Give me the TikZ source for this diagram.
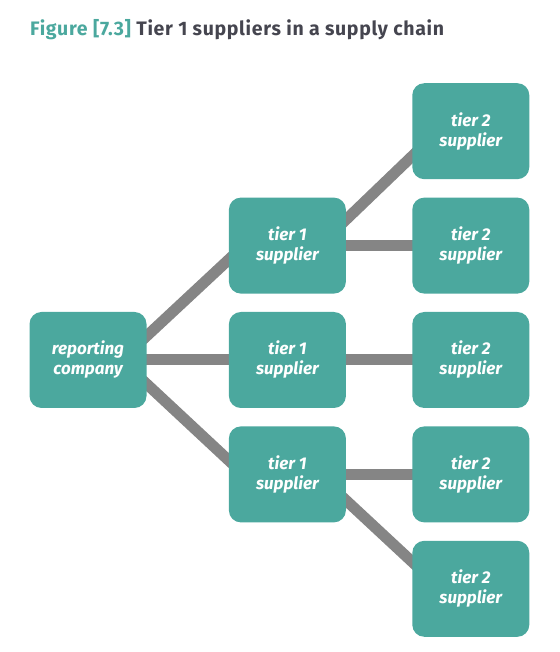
\documentclass[tikz,border=0pt]{standalone}
\usepackage{fontspec}
\setmainfont{Fira Sans}
\usetikzlibrary{positioning,backgrounds}
\definecolor{teal1}{HTML}{4BA89E}
\definecolor{linkgray}{HTML}{858585}
\definecolor{titlegray}{HTML}{45454F}

\begin{document}
\begin{tikzpicture}[
  x=1pt, y=1pt,
  node distance=18pt and 82pt,
  party/.style={fill=teal1, rounded corners=12pt, minimum width=117pt, minimum height=96pt,
    inner sep=0pt, align=center, text=white, font=\fontsize{17}{20}\selectfont\bfseries\itshape},
  link/.style={draw=linkgray, line width=11pt, shorten <=-10pt, shorten >=-10pt}
]
\useasboundingbox (0,0) rectangle (559,652);
\node[anchor=base west, text=titlegray, font=\fontsize{19.5}{22}\selectfont\bfseries\addfontfeatures{LetterSpace=3.5}, inner sep=0pt] (title) at (30,616)
  {\textcolor{teal1}{Figure [7.3]} Tier 1 suppliers in a supply chain};

% reporting company and tier 1
\node[party] (rep) at (88,292) {reporting\\company};
\node[party, right=82pt of rep] (t1b) {tier 1\\supplier};
\node[party, above=of t1b] (t1a) {tier 1\\supplier};
\node[party, below=of t1b] (t1c) {tier 1\\supplier};

% tier 2
\node[party, right=66pt of t1b] (t2c) {tier 2\\supplier};
\node[party, above=of t2c] (t2b) {tier 2\\supplier};
\node[party, above=of t2b] (t2a) {tier 2\\supplier};
\node[party, below=of t2c] (t2d) {tier 2\\supplier};
\node[party, below=of t2d] (t2e) {tier 2\\supplier};

\begin{scope}[on background layer]
\draw[link] ([yshift=24pt]rep.east) -- ([yshift=-14pt]t1a.west);
\draw[link] (rep.east) -- (t1b.west);
\draw[link] ([yshift=-24pt]rep.east) -- ([yshift=14pt]t1c.west);
\draw[link] ([yshift=26pt]t1a.east) -- ([yshift=-25pt]t2a.west);
\draw[link] (t1a.east) -- (t2b.west);
\draw[link] (t1b.east) -- (t2c.west);
\draw[link] (t1c.east) -- (t2d.west);
\draw[link] ([yshift=-26pt]t1c.east) -- ([yshift=27pt]t2e.west);
\end{scope}
\end{tikzpicture}
\end{document}
